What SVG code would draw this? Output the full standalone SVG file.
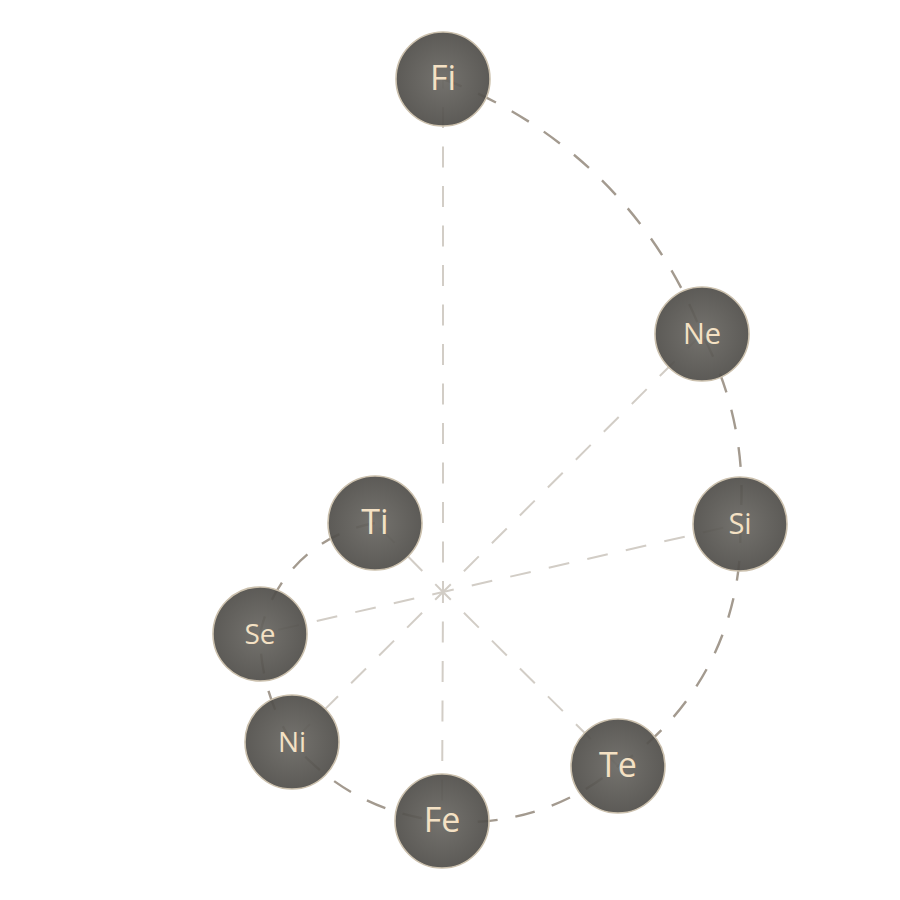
<svg xmlns="http://www.w3.org/2000/svg" width="900" height="900" viewBox="0 0 900 900">
  <defs>
    <radialGradient id="nodeGrad" cx="50%" cy="50%" r="50%">
      <stop offset="0%" stop-color="#6a6863"/>
      <stop offset="100%" stop-color="#504e4a"/>
    </radialGradient>
    <style>
      .spoke { fill: none; stroke: #d2cdc6; stroke-width: 2; stroke-dasharray: 21 18.5; stroke-dashoffset: 10; }
      .spiral { fill: none; stroke: #a39a8f; stroke-width: 2.4; stroke-dasharray: 20 18; }
      .node circle { fill: url(#nodeGrad); fill-opacity: 0.93; stroke: #cbc0ad; stroke-width: 1.6; }
      .node text { font-family: "Open Sans", Lato, "Liberation Sans", sans-serif; font-weight: 500; fill: #f4e1c4; text-anchor: middle; }
      .big { font-size: 34px; }
      .mid { font-size: 29px; }
      .small { font-size: 28px; }
    </style>
  </defs>
  <rect width="900" height="900" fill="#ffffff"/>
  <g id="connectors">
    <path class="spoke" d="M443 592 L443 79"/>
    <path class="spoke" d="M443 592 L702 334"/>
    <path class="spoke" d="M443 592 L740 524"/>
    <path class="spoke" d="M443 592 L618 766"/>
    <path class="spoke" d="M443 592 L442 821"/>
    <path class="spoke" d="M443 592 L292 742"/>
    <path class="spoke" d="M443 592 L260 634"/>
    <path class="spoke" d="M443 592 L375 523"/>
    <path class="spiral" d="M443 79 A440 440 0 0 1 702 334 A335 335 0 0 1 740 524 A275 275 0 0 1 618 766 A237 237 0 0 1 442 821 A221 221 0 0 1 292 742 A201 201 0 0 1 260 634 A142 142 0 0 1 375 523"/>
  </g>
  <g id="node-Fi" class="node"><circle cx="443" cy="79" r="47"/><text class="big" x="443" y="90">Fi</text></g>
  <g id="node-Ne" class="node"><circle cx="702" cy="334" r="47"/><text class="mid" x="702" y="344">Ne</text></g>
  <g id="node-Si" class="node"><circle cx="740" cy="524" r="47"/><text class="mid" x="740" y="534">Si</text></g>
  <g id="node-Te" class="node"><circle cx="618" cy="766" r="47"/><text class="big" x="618" y="777">Te</text></g>
  <g id="node-Fe" class="node"><circle cx="442" cy="821" r="47"/><text class="big" x="442" y="832">Fe</text></g>
  <g id="node-Ni" class="node"><circle cx="292" cy="742" r="47"/><text class="small" x="292" y="752">Ni</text></g>
  <g id="node-Se" class="node"><circle cx="260" cy="634" r="47"/><text class="small" x="260" y="644">Se</text></g>
  <g id="node-Ti" class="node"><circle cx="375" cy="523" r="47"/><text class="big" x="375" y="534">Ti</text></g>
</svg>
